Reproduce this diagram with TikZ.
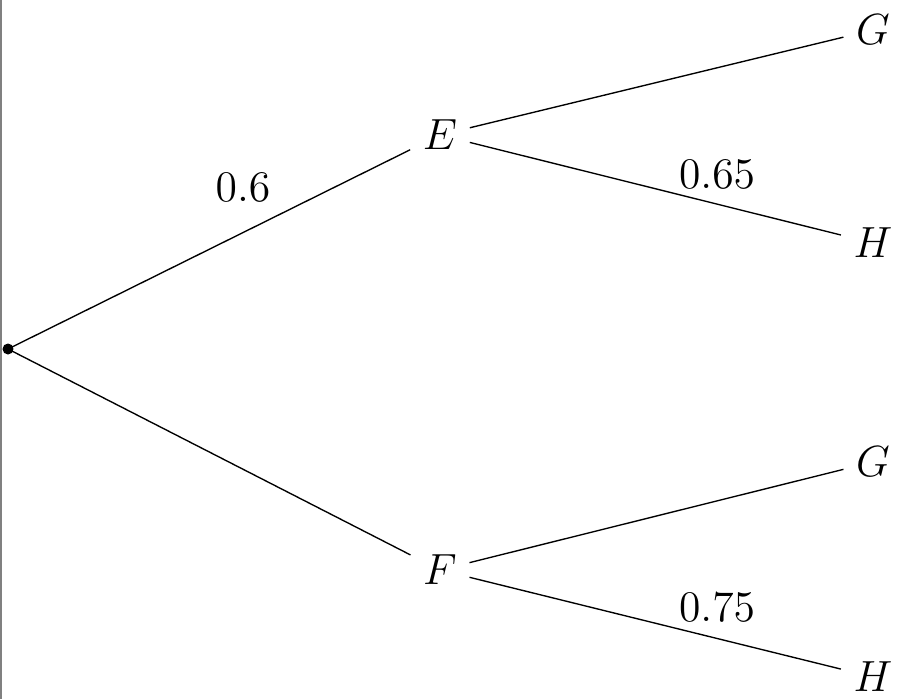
\documentclass[tikz,border=0pt]{standalone}
\begin{document}
\begin{tikzpicture}[x=0.33pt,y=-0.33pt,every node/.style={font=\fontsize{13.5}{16}\selectfont},lab/.style={inner sep=4pt},edge/.style={draw=black,line width=0.45pt}]
\useasboundingbox (0,0) rectangle (904,699);
\draw[gray,line width=1pt] (0.5,0) -- (0.5,699);
\fill (8,349) circle (5.5);
\coordinate (r) at (8,349);
\node[lab] (E) at (440,135) {$E$};
\node[lab] (F) at (440,570) {$F$};
\node[lab] (G1) at (873,30) {$G$};
\node[lab] (H1) at (873,243) {$H$};
\node[lab] (G2) at (873,462) {$G$};
\node[lab] (H2) at (873,677) {$H$};
\draw[edge] (r) -- (E);
\draw[edge] (r) -- (F);
\draw[edge] (E) -- (G1);
\draw[edge] (E) -- (H1);
\draw[edge] (F) -- (G2);
\draw[edge] (F) -- (H2);
\node (l1) at (243,187) {$0.6$};
\node (l2) at (717,174) {$0.65$};
\node (l3) at (717,607) {$0.75$};
\end{tikzpicture}
\end{document}
